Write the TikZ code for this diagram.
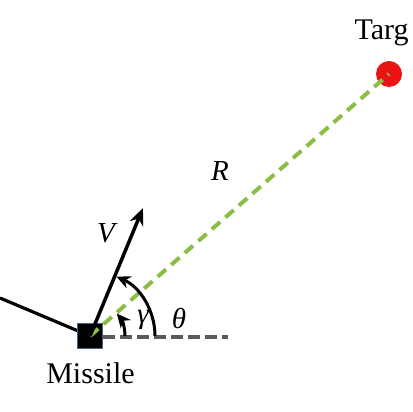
\documentclass[tikz,border=0pt]{standalone}
\usepackage{fontspec}
\setmainfont{Liberation Serif}
\usetikzlibrary{arrows.meta, positioning, calc}
\definecolor{loscolor}{RGB}{140,190,70}
\definecolor{refcolor}{RGB}{90,90,90}
\definecolor{targetcolor}{RGB}{235,20,20}
\definecolor{missileedge}{RGB}{70,100,130}
\tikzstyle{arrow} = [-{Stealth[length=17pt,width=14pt]}, line width=3.5pt]
\tikzstyle{anglearc} = [-{Stealth[length=14pt,width=13pt]}, line width=3pt]
\tikzstyle{label} = [font=\fontsize{29}{32}\selectfont\itshape]

\begin{document}
\begin{tikzpicture}[x=1pt, y=1pt, font=\fontsize{30}{34}\selectfont]
    \useasboundingbox (0,0) rectangle (412,412);

    % Missile and its trail
    \coordinate (trail) at (0,114);
    \coordinate (m) at (90,76);
    \draw[line width=3.2pt] (trail) -- (m);
    \node[rectangle, draw=missileedge, fill=black, line width=1.2pt, minimum size=25pt, inner sep=0pt] (missile) at (m) {};
    \node[anchor=base] (missile_lbl) at (90.5,28) {Missile};

    % Target
    \node[circle, fill=targetcolor, minimum size=26pt, inner sep=0pt] (target) at (389,338) {};
    \node[anchor=base west, font=\fontsize{30}{32}\selectfont] (target_lbl) at (351,372) {Targ};

    % Line of sight
    \draw[loscolor, line width=4pt, dash pattern=on 11pt off 7pt] (missile.center) -- (target.center);
    \node[label] (R) at (220,241) {R};

    % Reference line
    \coordinate (refend) at (228,75);
    \draw[refcolor, line width=4pt, dash pattern=on 12pt off 5pt] (missile.east |- refend) -- (refend);

    % Velocity
    \coordinate (vtip) at (143,204);
    \draw[arrow] (missile.center) -- (vtip);
    \node[label] (V) at (106,179) {V};

    % Angles
    \draw[anglearc] ($(m)+(65,0)$) arc[start angle=0, end angle=66, radius=65];
    \draw[anglearc] ($(m)+(35,0)$) arc[start angle=0, end angle=40, radius=35];
    \node[label] (gamma) at (143,92) {γ};
    \node[label] (theta) at (179,93) {θ};
\end{tikzpicture}
\end{document}
